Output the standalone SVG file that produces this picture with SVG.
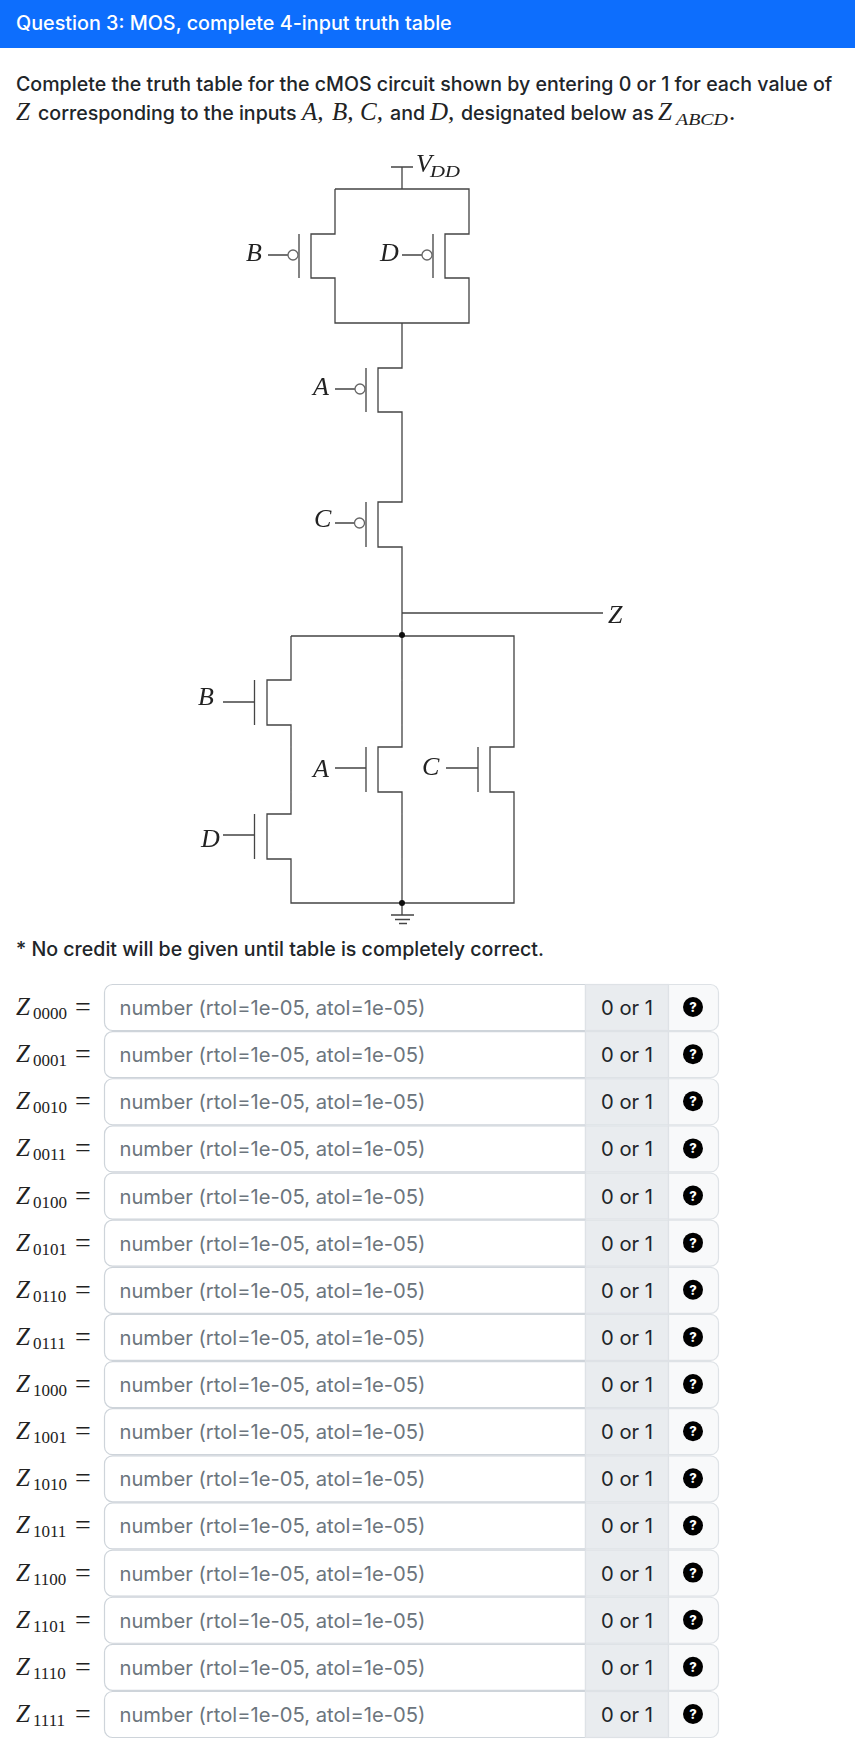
<svg xmlns="http://www.w3.org/2000/svg" width="855" height="1757" viewBox="0 0 855 1757">
<style>
text{font-family:Inter,"Liberation Sans",sans-serif;fill:#212529}
.b{font-size:19.6px;font-weight:500}
.m{font-family:"Liberation Serif",serif;font-style:italic;font-size:25px;fill:#222}
.s{font-family:"Liberation Serif",serif;font-style:italic;font-size:17px;fill:#222}
.g{font-family:"Liberation Serif",serif;font-style:italic;font-size:26px;fill:#222}
.sr{font-family:"Liberation Serif",serif;font-size:17px;fill:#222}
.eq{font-family:"Liberation Serif",serif;font-size:28px;fill:#222}
.p{font-size:20.2px;fill:#6c757d}
.u{font-size:20.2px;fill:#212529}
.q{font-size:13px;font-weight:800;fill:#fff}
.w{fill:none;stroke:#444;stroke-width:1.3}
.c{fill:#fff;stroke:#666;stroke-width:1.3}
.bl{filter:url(#soft)}
</style>
<defs>
<filter id="soft" x="-5%" y="-5%" width="110%" height="110%"><feGaussianBlur stdDeviation="0.35"/></filter>
<g id="frame">
<path d="M585.500 984.500H112.500a8 8 0 0 0-8 8V1022.500a8 8 0 0 0 8 8H585.500Z" fill="#fff" stroke="#ced4da" stroke-width="1.200"/>
<rect x="585.500" y="984.500" width="83" height="46" fill="#e9ecef" stroke="#dee2e6" stroke-width="1.200"/>
<path d="M668.500 984.500H710.500a8 8 0 0 1 8 8V1022.500a8 8 0 0 1-8 8H668.500Z" fill="#f8f9fa" stroke="#dee2e6" stroke-width="1.200"/>
<circle cx="693" cy="1007" r="10" fill="#000"/>
</g>
</defs>
<g id="header">
<rect width="855" height="48" fill="#0d6efd"/>
<text x="16" y="30" font-size="19.750" font-weight="500" style="fill:#fff">Question 3: MOS, complete 4-input truth table</text>
</g>
<g id="prompt">
<text class="b" x="16" y="91">Complete the truth table for the cMOS circuit shown by entering 0 or 1 for each value of</text>
<text class="m" x="16" y="120">Z</text>
<text class="b" x="38" y="120">corresponding to the inputs</text>
<text class="m" x="302" y="120">A,</text>
<text class="m" x="332" y="120">B,</text>
<text class="m" x="360" y="120">C,</text>
<text class="b" x="390" y="120">and</text>
<text class="m" x="430" y="120">D,</text>
<text class="b" x="461" y="120">designated below as</text>
<text class="m" x="658" y="120">Z</text>
<text class="s" x="676" y="125" textLength="52" lengthAdjust="spacingAndGlyphs">ABCD</text>
<text class="m" x="729" y="120" style="font-style:normal">.</text>
</g>
<g id="connectors" class="bl">
<path class="w" d="M391 167H413M402 167V189M335 189H469V234H445V278H469V323H335V278H311V234H335V189M402 323V368H378V412H402V502H378V547H402V636M402 613H603M291 636H514V747H490V792H514V903H291V859H267V814H291V725H267V680H291V636M402 636V747H378V792H402V903M402 903V915M391 915H414M395 919.500H410M399 923.500H407"/>
<path class="w" d="M299 234V278M433 234V278M366 368V412M366 502V547M254.500 680V725M254.500 814V859M366 747V792M478 747V792"/>
<path class="w" d="M268 255H288M402 255H422M335 389H355M335 523H354M223 702H254M223 835H254M335 768H366M446 768H478"/>
</g>
<g id="vdd" class="bl"><text class="g" x="416" y="172">V</text><text class="s" x="430" y="177" textLength="30" lengthAdjust="spacingAndGlyphs">DD</text></g>
<g id="z-out" class="bl"><text class="g" x="608" y="623">Z</text></g>
<g id="pmos-b" class="bl"><circle class="c" cx="293" cy="255" r="5"/><text class="g" x="246" y="261">B</text></g>
<g id="pmos-d" class="bl"><circle class="c" cx="427" cy="255" r="5"/><text class="g" x="380" y="261">D</text></g>
<g id="pmos-a" class="bl"><circle class="c" cx="360" cy="389" r="5"/><text class="g" x="313" y="395">A</text></g>
<g id="pmos-c" class="bl"><circle class="c" cx="359.500" cy="523" r="5"/><text class="g" x="314" y="527">C</text></g>
<g id="nmos-b" class="bl"><text class="g" x="198" y="705">B</text></g>
<g id="nmos-d" class="bl"><text class="g" x="201" y="847">D</text></g>
<g id="nmos-a" class="bl"><text class="g" x="313" y="777">A</text></g>
<g id="nmos-c" class="bl"><text class="g" x="422" y="775">C</text></g>
<g id="nodes" class="bl"><circle cx="402" cy="635" r="3" fill="#111"/><circle cx="402" cy="903" r="3" fill="#111"/></g>
<g id="note"><text class="b" x="16" y="956">* No credit will be given until table is completely correct.</text></g>
<g id="row-0000" transform="translate(0 0)"><use href="#frame"/><text class="m" x="16" y="1015">Z</text><text class="sr" x="33" y="1019">0000</text><text class="eq" x="75" y="1016">=</text><text class="p" x="119.500" y="1015">number (rtol=1e-05, atol=1e-05)</text><text class="u" x="601" y="1015">0 or 1</text><text class="q" x="693" y="1012" text-anchor="middle">?</text></g>
<g id="row-0001" transform="translate(0 47.13)"><use href="#frame"/><text class="m" x="16" y="1015">Z</text><text class="sr" x="33" y="1019">0001</text><text class="eq" x="75" y="1016">=</text><text class="p" x="119.500" y="1015">number (rtol=1e-05, atol=1e-05)</text><text class="u" x="601" y="1015">0 or 1</text><text class="q" x="693" y="1012" text-anchor="middle">?</text></g>
<g id="row-0010" transform="translate(0 94.27)"><use href="#frame"/><text class="m" x="16" y="1015">Z</text><text class="sr" x="33" y="1019">0010</text><text class="eq" x="75" y="1016">=</text><text class="p" x="119.500" y="1015">number (rtol=1e-05, atol=1e-05)</text><text class="u" x="601" y="1015">0 or 1</text><text class="q" x="693" y="1012" text-anchor="middle">?</text></g>
<g id="row-0011" transform="translate(0 141.4)"><use href="#frame"/><text class="m" x="16" y="1015">Z</text><text class="sr" x="33" y="1019">0011</text><text class="eq" x="75" y="1016">=</text><text class="p" x="119.500" y="1015">number (rtol=1e-05, atol=1e-05)</text><text class="u" x="601" y="1015">0 or 1</text><text class="q" x="693" y="1012" text-anchor="middle">?</text></g>
<g id="row-0100" transform="translate(0 188.53)"><use href="#frame"/><text class="m" x="16" y="1015">Z</text><text class="sr" x="33" y="1019">0100</text><text class="eq" x="75" y="1016">=</text><text class="p" x="119.500" y="1015">number (rtol=1e-05, atol=1e-05)</text><text class="u" x="601" y="1015">0 or 1</text><text class="q" x="693" y="1012" text-anchor="middle">?</text></g>
<g id="row-0101" transform="translate(0 235.67)"><use href="#frame"/><text class="m" x="16" y="1015">Z</text><text class="sr" x="33" y="1019">0101</text><text class="eq" x="75" y="1016">=</text><text class="p" x="119.500" y="1015">number (rtol=1e-05, atol=1e-05)</text><text class="u" x="601" y="1015">0 or 1</text><text class="q" x="693" y="1012" text-anchor="middle">?</text></g>
<g id="row-0110" transform="translate(0 282.8)"><use href="#frame"/><text class="m" x="16" y="1015">Z</text><text class="sr" x="33" y="1019">0110</text><text class="eq" x="75" y="1016">=</text><text class="p" x="119.500" y="1015">number (rtol=1e-05, atol=1e-05)</text><text class="u" x="601" y="1015">0 or 1</text><text class="q" x="693" y="1012" text-anchor="middle">?</text></g>
<g id="row-0111" transform="translate(0 329.93)"><use href="#frame"/><text class="m" x="16" y="1015">Z</text><text class="sr" x="33" y="1019">0111</text><text class="eq" x="75" y="1016">=</text><text class="p" x="119.500" y="1015">number (rtol=1e-05, atol=1e-05)</text><text class="u" x="601" y="1015">0 or 1</text><text class="q" x="693" y="1012" text-anchor="middle">?</text></g>
<g id="row-1000" transform="translate(0 377.07)"><use href="#frame"/><text class="m" x="16" y="1015">Z</text><text class="sr" x="33" y="1019">1000</text><text class="eq" x="75" y="1016">=</text><text class="p" x="119.500" y="1015">number (rtol=1e-05, atol=1e-05)</text><text class="u" x="601" y="1015">0 or 1</text><text class="q" x="693" y="1012" text-anchor="middle">?</text></g>
<g id="row-1001" transform="translate(0 424.2)"><use href="#frame"/><text class="m" x="16" y="1015">Z</text><text class="sr" x="33" y="1019">1001</text><text class="eq" x="75" y="1016">=</text><text class="p" x="119.500" y="1015">number (rtol=1e-05, atol=1e-05)</text><text class="u" x="601" y="1015">0 or 1</text><text class="q" x="693" y="1012" text-anchor="middle">?</text></g>
<g id="row-1010" transform="translate(0 471.33)"><use href="#frame"/><text class="m" x="16" y="1015">Z</text><text class="sr" x="33" y="1019">1010</text><text class="eq" x="75" y="1016">=</text><text class="p" x="119.500" y="1015">number (rtol=1e-05, atol=1e-05)</text><text class="u" x="601" y="1015">0 or 1</text><text class="q" x="693" y="1012" text-anchor="middle">?</text></g>
<g id="row-1011" transform="translate(0 518.47)"><use href="#frame"/><text class="m" x="16" y="1015">Z</text><text class="sr" x="33" y="1019">1011</text><text class="eq" x="75" y="1016">=</text><text class="p" x="119.500" y="1015">number (rtol=1e-05, atol=1e-05)</text><text class="u" x="601" y="1015">0 or 1</text><text class="q" x="693" y="1012" text-anchor="middle">?</text></g>
<g id="row-1100" transform="translate(0 565.6)"><use href="#frame"/><text class="m" x="16" y="1015">Z</text><text class="sr" x="33" y="1019">1100</text><text class="eq" x="75" y="1016">=</text><text class="p" x="119.500" y="1015">number (rtol=1e-05, atol=1e-05)</text><text class="u" x="601" y="1015">0 or 1</text><text class="q" x="693" y="1012" text-anchor="middle">?</text></g>
<g id="row-1101" transform="translate(0 612.73)"><use href="#frame"/><text class="m" x="16" y="1015">Z</text><text class="sr" x="33" y="1019">1101</text><text class="eq" x="75" y="1016">=</text><text class="p" x="119.500" y="1015">number (rtol=1e-05, atol=1e-05)</text><text class="u" x="601" y="1015">0 or 1</text><text class="q" x="693" y="1012" text-anchor="middle">?</text></g>
<g id="row-1110" transform="translate(0 659.87)"><use href="#frame"/><text class="m" x="16" y="1015">Z</text><text class="sr" x="33" y="1019">1110</text><text class="eq" x="75" y="1016">=</text><text class="p" x="119.500" y="1015">number (rtol=1e-05, atol=1e-05)</text><text class="u" x="601" y="1015">0 or 1</text><text class="q" x="693" y="1012" text-anchor="middle">?</text></g>
<g id="row-1111" transform="translate(0 707)"><use href="#frame"/><text class="m" x="16" y="1015">Z</text><text class="sr" x="33" y="1019">1111</text><text class="eq" x="75" y="1016">=</text><text class="p" x="119.500" y="1015">number (rtol=1e-05, atol=1e-05)</text><text class="u" x="601" y="1015">0 or 1</text><text class="q" x="693" y="1012" text-anchor="middle">?</text></g>
</svg>
